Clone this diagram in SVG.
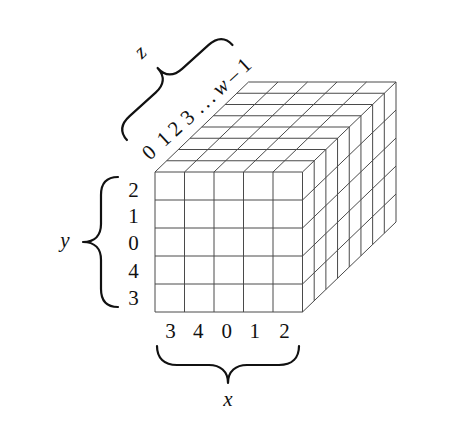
<svg xmlns="http://www.w3.org/2000/svg" width="474" height="431" viewBox="0 0 474 431">
<style>
.grid{fill:none;stroke:#4a4a4a;stroke-width:1}
.brace{fill:none;stroke:#111;stroke-width:2.2;stroke-linecap:round;stroke-linejoin:round}
text{font-family:"Liberation Serif","Times New Roman",serif;font-size:21px;fill:#111}
.it{font-style:italic}
</style>
<rect width="474" height="431" fill="#fff"/>
<g id="cube">
<path id="front" class="grid" d="M155 172h147.5M155 200h147.5M155 228h147.5M155 256h147.5M155 284h147.5M155 312h147.5M155 172v140M184.5 172v140M214 172v140M243.5 172v140M273 172v140M302.5 172v140"/>
<path id="top" class="grid" d="M166.69 160.75h147.5M178.38 149.5h147.5M190.06 138.25h147.5M201.75 127h147.5M213.44 115.75h147.5M225.13 104.5h147.5M236.81 93.25h147.5M248.5 82h147.5M155 172l93.5 -90M184.5 172l93.5 -90M214 172l93.5 -90M243.5 172l93.5 -90M273 172l93.5 -90M302.5 172l93.5 -90"/>
<path id="side" class="grid" d="M314.19 160.75v140M325.88 149.5v140M337.56 138.25v140M349.25 127v140M360.94 115.75v140M372.63 104.5v140M384.31 93.25v140M396 82v140M302.5 200l93.5 -90M302.5 228l93.5 -90M302.5 256l93.5 -90M302.5 284l93.5 -90M302.5 312l93.5 -90"/>
</g>
<g id="x-axis">
<text text-anchor="middle" y="338.3"><tspan x="170.5">3</tspan><tspan x="198.3">4</tspan><tspan x="226.7">0</tspan><tspan x="254.7">1</tspan><tspan x="284.5">2</tspan></text>
<path class="brace" transform="translate(228,346) scale(1,-1)" d="M-71 0C-71 -12 -64 -19 -51 -19L-19 -19C-8 -19 0 -25 0 -37C0 -25 8 -19 19 -19L51 -19C64 -19 71 -12 71 0"/>
<text class="it" x="228" y="406" text-anchor="middle">x</text>
</g>
<g id="y-axis">
<text text-anchor="middle"><tspan x="133.5" y="196.5">2</tspan><tspan x="133.5" y="222.7">1</tspan><tspan x="133.5" y="250">0</tspan><tspan x="133.5" y="278.3">4</tspan><tspan x="133.5" y="305">3</tspan></text>
<path class="brace" transform="translate(118,242) rotate(-90)" d="M-65 0C-65 -11 -59 -17 -47 -17L-18 -17C-7 -17 0 -23 0 -35C0 -23 7 -17 18 -17L47 -17C59 -17 65 -11 65 0"/>
<text class="it" x="65" y="247" text-anchor="middle">y</text>
</g>
<g id="z-axis">
<text transform="translate(149,152.3) rotate(-42.5)" text-anchor="middle" y="7"><tspan x="0">0</tspan><tspan x="20">1</tspan><tspan x="35">2</tspan><tspan x="52">3</tspan><tspan x="66.7">.</tspan><tspan x="74.8">.</tspan><tspan x="82.8">.</tspan><tspan x="97" class="it">w</tspan><tspan x="113.5">–</tspan><tspan x="129">1</tspan></text>
<path class="brace" transform="translate(179.7,92.5) rotate(-42)" d="M-71 0C-71 -11 -65 -16 -53 -16L-18 -16C-7 -16 0 -21 0 -33C0 -21 7 -16 18 -16L53 -16C65 -16 71 -11 71 0"/>
<text class="it" transform="translate(141.7,53.3) rotate(-42.5)" text-anchor="middle" y="4.5">z</text>
</g>
</svg>
